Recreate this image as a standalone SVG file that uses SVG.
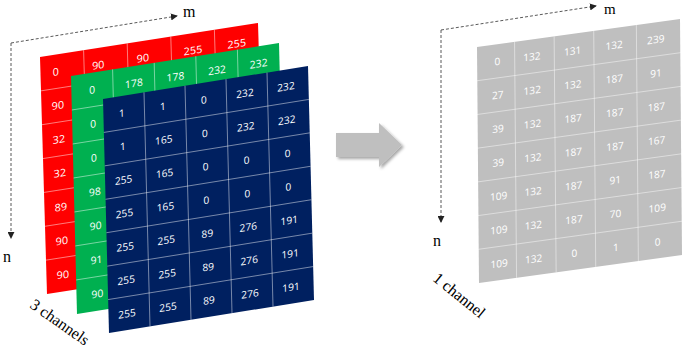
<svg xmlns="http://www.w3.org/2000/svg" width="685" height="353" viewBox="0 0 685 353">
<defs>
<style>
.grid{fill:none;stroke:#ffffff;stroke-opacity:0.55;stroke-width:0.8}
.v{font-family:"Open Sans","DejaVu Sans",sans-serif;font-size:10px;fill:#ffffff;text-anchor:middle;dominant-baseline:central}
.ax{fill:none;stroke:#595959;stroke-width:1;stroke-dasharray:3 2}
.lbl{font-family:"Liberation Serif","Times New Roman",serif;font-size:16px;fill:#000000}
</style>
<marker id="ah" viewBox="0 0 8 8" refX="7" refY="4" markerWidth="7" markerHeight="7" markerUnits="userSpaceOnUse" orient="auto">
<path d="M0,0 L8,4 L0,8 z" fill="#222222"/>
</marker>
<filter id="sh" x="-20%" y="-20%" width="150%" height="150%">
<feDropShadow dx="2" dy="2" stdDeviation="1.5" flood-color="#000000" flood-opacity="0.35"/>
</filter>
</defs>

<g id="connectors">
<path class="ax" d="M11,43 L11,238" marker-end="url(#ah)"/>
<path class="ax" d="M11,43 L177,16" marker-end="url(#ah)"/>
<path class="ax" d="M441,30 L441,222" marker-end="url(#ah)"/>
<path class="ax" d="M441,30 L596,6" marker-end="url(#ah)"/>
<polygon points="336,133 379,133 379,123 402,145 379,167 379,157 336,157" fill="#bfbfbf" filter="url(#sh)"/>
</g>

<g id="axis-labels">
<text class="lbl" x="183" y="17">m</text>
<text class="lbl" x="3" y="262">n</text>
<text class="lbl" x="604" y="14" style="font-size:15px">m</text>
<text class="lbl" x="433" y="246">n</text>
<text class="lbl" transform="translate(29,307) rotate(35)">3 channels</text>
<text class="lbl" transform="translate(432,280) rotate(39)">1 channel</text>
</g>

<g id="red-channel" transform="matrix(1.09 -0.17 0.0303 1.026 40 57)">
<rect x="0" y="0" width="200" height="231" fill="#ff0000"/>
<path class="grid" d="M40,0V231M80,0V231M120,0V231M160,0V231M0,33H200M0,66H200M0,99H200M0,132H200M0,165H200M0,198H200"/>
<text class="v" x="14" y="16.5">0</text>
<text class="v" x="53" y="16.5">90</text>
<text class="v" x="94" y="16.5">90</text>
<text class="v" x="140" y="16.5">255</text>
<text class="v" x="180" y="16.5">255</text>
<text class="v" x="15" y="49.5">90</text>
<text class="v" x="15" y="82.5">32</text>
<text class="v" x="15" y="115.5">32</text>
<text class="v" x="15" y="148.5">89</text>
<text class="v" x="15" y="181.5">90</text>
<text class="v" x="15" y="214.5">90</text>
</g>

<g id="green-channel" transform="matrix(1.04 -0.165 0.026 1.03 71 76)">
<rect x="0" y="0" width="200" height="231" fill="#00b050"/>
<path class="grid" d="M40,0V231M80,0V231M120,0V231M160,0V231M0,33H200M0,66H200M0,99H200M0,132H200M0,165H200M0,198H200"/>
<text class="v" x="20" y="16.5">0</text>
<text class="v" x="60" y="16.5">178</text>
<text class="v" x="100" y="16.5">178</text>
<text class="v" x="140" y="16.5">232</text>
<text class="v" x="180" y="16.5">232</text>
<text class="v" x="20" y="49.5">0</text>
<text class="v" x="20" y="82.5">0</text>
<text class="v" x="20" y="115.5">98</text>
<text class="v" x="20" y="148.5">90</text>
<text class="v" x="20" y="181.5">91</text>
<text class="v" x="20" y="214.5">90</text>
</g>

<g id="blue-channel" transform="matrix(1.025 -0.165 0.026 1.013 103 99)">
<rect x="0" y="0" width="200" height="231" fill="#002060"/>
<path class="grid" d="M40,0V231M80,0V231M120,0V231M160,0V231M0,33H200M0,66H200M0,99H200M0,132H200M0,165H200M0,198H200"/>
<g class="v">
<text x="18" y="16.5">1</text><text x="58" y="16.5">1</text><text x="98" y="16.5">0</text><text x="138" y="16.5">232</text><text x="178" y="16.5">232</text>
<text x="18" y="49.5">1</text><text x="58" y="49.5">165</text><text x="98" y="49.5">0</text><text x="138" y="49.5">232</text><text x="178" y="49.5">232</text>
<text x="18" y="82.5">255</text><text x="58" y="82.5">165</text><text x="98" y="82.5">0</text><text x="138" y="82.5">0</text><text x="178" y="82.5">0</text>
<text x="18" y="115.5">255</text><text x="58" y="115.5">165</text><text x="98" y="115.5">0</text><text x="138" y="115.5">0</text><text x="178" y="115.5">0</text>
<text x="18" y="148.5">255</text><text x="58" y="148.5">255</text><text x="98" y="148.5">89</text><text x="138" y="148.5">276</text><text x="178" y="148.5">191</text>
<text x="18" y="181.5">255</text><text x="58" y="181.5">255</text><text x="98" y="181.5">89</text><text x="138" y="181.5">276</text><text x="178" y="181.5">191</text>
<text x="18" y="214.5">255</text><text x="58" y="214.5">255</text><text x="98" y="214.5">89</text><text x="138" y="214.5">276</text><text x="178" y="214.5">191</text>
</g>
</g>

<g id="gray-channel" transform="matrix(1.015 -0.14 0.00866 1.0216 477 47)">
<rect x="0" y="0" width="200" height="231" fill="#bfbfbf"/>
<path class="grid" d="M37,0V231M76,0V231M115,0V231M157,0V231M-4,33H204M-4,66H204M-4,99H204M-4,132H204M-4,165H204M-4,198H204"/>
<g class="v">
<text x="20" y="16.5">0</text><text x="54" y="16.5">132</text><text x="94" y="16.5">131</text><text x="135" y="16.5">132</text><text x="176" y="16.5">239</text>
<text x="20" y="49.5">27</text><text x="54" y="49.5">132</text><text x="94" y="49.5">132</text><text x="135" y="49.5">187</text><text x="176" y="49.5">91</text>
<text x="20" y="82.5">39</text><text x="54" y="82.5">132</text><text x="94" y="82.5">187</text><text x="135" y="82.5">187</text><text x="176" y="82.5">187</text>
<text x="20" y="115.5">39</text><text x="54" y="115.5">132</text><text x="94" y="115.5">187</text><text x="135" y="115.5">187</text><text x="176" y="115.5">167</text>
<text x="20" y="148.5">109</text><text x="54" y="148.5">132</text><text x="94" y="148.5">187</text><text x="135" y="148.5">91</text><text x="176" y="148.5">187</text>
<text x="20" y="181.5">109</text><text x="54" y="181.5">132</text><text x="94" y="181.5">187</text><text x="135" y="181.5">70</text><text x="176" y="181.5">109</text>
<text x="20" y="214.5">109</text><text x="54" y="214.5">132</text><text x="94" y="214.5">0</text><text x="135" y="214.5">1</text><text x="176" y="214.5">0</text>
</g>
</g>
</svg>
